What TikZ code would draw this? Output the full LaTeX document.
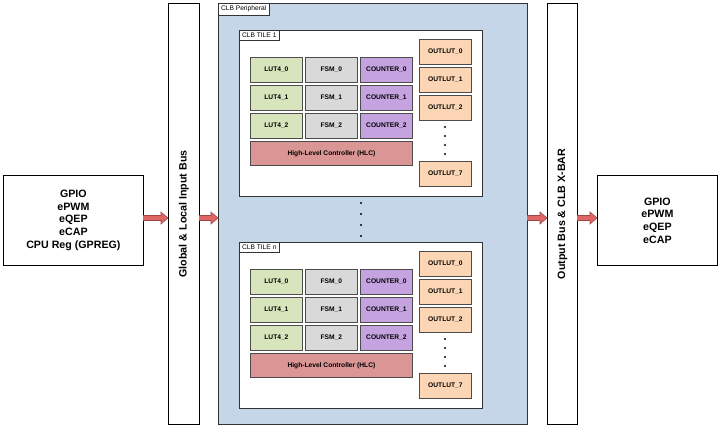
\documentclass[tikz,border=0pt]{standalone}
\usepackage{fontspec}
\setmainfont{Liberation Sans}
\usetikzlibrary{arrows.meta}
\definecolor{lut}{HTML}{D8E4BC}
\definecolor{fsm}{HTML}{D9D9D9}
\definecolor{cnt}{HTML}{C5A3E0}
\definecolor{hlc}{HTML}{DA9694}
\definecolor{olut}{HTML}{FCD5B4}
\definecolor{periph}{HTML}{C6D6E9}
\definecolor{arr}{HTML}{E06666}
\begin{document}
\begin{tikzpicture}[x=0.75pt,y=-0.75pt,
  blk/.style={draw=black!70,line width=0.6pt,minimum width=39pt,minimum height=18.5pt,inner sep=0pt,font=\fontsize{5}{6}\selectfont\bfseries,anchor=north west},
  lbl/.style={draw=black!80,fill=white,line width=0.5pt,inner sep=2pt,font=\fontsize{5}{6}\selectfont,anchor=north west},
  dotc/.style={fill=black,circle,inner sep=0.6pt}]
\useasboundingbox (0,0) rectangle (720,428);
\fill[white] (0,0) rectangle (720,428);
% left / right boxes
\node[draw,line width=0.6pt,minimum width=105pt,minimum height=67.5pt,anchor=north west,align=center,font=\fontsize{8}{9.5}\selectfont\bfseries] (in) at (3,175) {GPIO\\ePWM\\eQEP\\eCAP\\CPU Reg (GPREG)};
\node[draw,line width=0.6pt,minimum width=90pt,minimum height=67.5pt,anchor=north west,align=center,font=\fontsize{8}{9.5}\selectfont\bfseries] (out) at (597,175) {GPIO\\ePWM\\eQEP\\eCAP};
% buses
\node[draw,line width=0.6pt,minimum width=23.25pt,minimum height=315.75pt,anchor=north west] (gbus) at (168,3) {};
\node[rotate=90,font=\fontsize{8}{9}\selectfont\bfseries] at (gbus.center) {Global \& Local Input Bus};
\node[draw,line width=0.6pt,minimum width=22.5pt,minimum height=315.75pt,anchor=north west] (obus) at (547,3) {};
\node[rotate=90,font=\fontsize{8}{9}\selectfont\bfseries] at (obus.center) {Output Bus \& CLB X-BAR};
% peripheral
\node[draw=black!80,fill=periph,line width=0.6pt,minimum width=231.75pt,minimum height=315.75pt,anchor=north west] (per) at (218,3) {};
\node[lbl] (perl) at (218,3) {CLB Peripheral};
% arrows
\foreach \x/\y in {143/168,199/218,527/547,577/597}{
 \draw[arr!70!black,fill=arr,line width=0.4pt] (\x,215.5) -- (\y-7,215.5) -- (\y-7,212) -- (\y,218) -- (\y-7,224) -- (\y-7,220.5) -- (\x,220.5);
}
% tiles
\foreach \oy/\nm/\tl in {0/t1/{CLB TILE 1},212/tn/{CLB TILE \textit{n}}}{
 \begin{scope}[yshift=-\oy*0.75pt]
 \node[draw=black!80,fill=white,line width=0.6pt,minimum width=182.25pt,minimum height=124.5pt,anchor=north west] (\nm) at (239,30) {};
 \node[lbl] (\nm l) at (239,30) {\tl};
 \foreach \r in {0,1,2}{
  \node[blk,fill=lut] (\nm lut\r) at (250,57+28*\r) {LUT4\_\r};
  \node[blk,fill=fsm] (\nm fsm\r) at (305,57+28*\r) {FSM\_\r};
  \node[blk,fill=cnt] (\nm cnt\r) at (360,57+28*\r) {COUNTER\_\r};
  \node[blk,fill=olut] (\nm o\r) at (419,39+28*\r) {OUTLUT\_\r};
 }
 \node[blk,fill=hlc,minimum width=121.5pt,minimum height=18pt] (\nm hlc) at (250,141) {High-Level Controller (HLC)};
 \node[blk,fill=olut] (\nm o7) at (419,161) {OUTLUT\_7};
 \foreach \d in {127,136,145,154} \node[dotc] at (445,\d) {};
 \end{scope}
}
\foreach \d in {203,214,225,236} \node[dotc] at (361,\d) {};
\end{tikzpicture}
\end{document}
